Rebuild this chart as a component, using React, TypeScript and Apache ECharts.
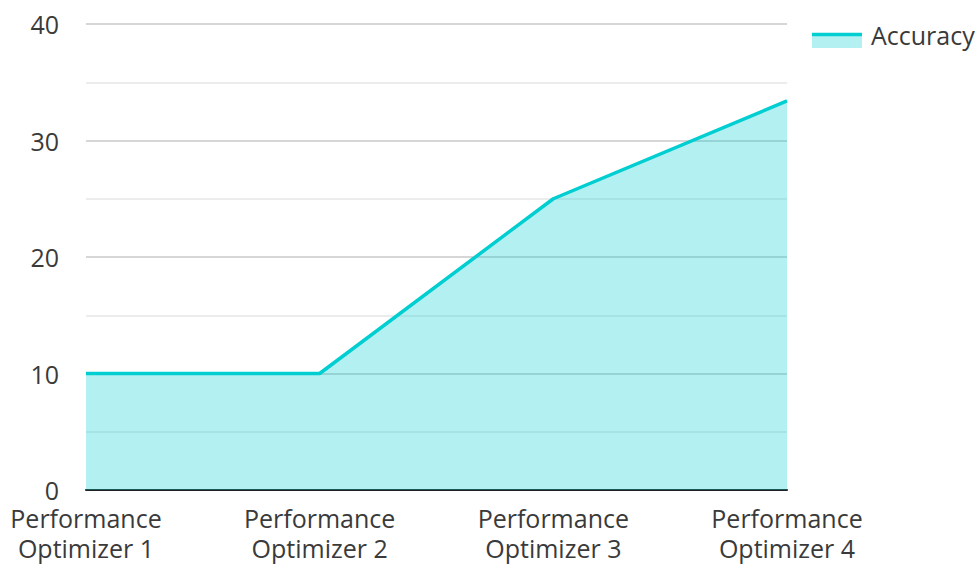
import React, { useEffect, useRef } from "react";
import * as echarts from "echarts";

const categories = [
  "Performance\nOptimizer 1",
  "Performance\nOptimizer 2",
  "Performance\nOptimizer 3",
  "Performance\nOptimizer 4",
];
const accuracy = [10, 10, 25, 33.4];
const seriesName = "Accuracy";

const lineColor = "#00CED1";
const areaColor = "rgba(0,206,209,0.3)";
const font = "'Open Sans', sans-serif";

export default function App() {
  const ref = useRef<HTMLDivElement>(null);
  useEffect(() => {
    if (!ref.current) return;
    const chart = echarts.init(ref.current, undefined, { renderer: "svg" });
    chart.setOption({
      animation: false,
      textStyle: { fontFamily: font },
      grid: { left: 86, right: 190, top: 24, bottom: 74, containLabel: false },
      xAxis: {
        type: "category",
        data: categories,
        boundaryGap: false,
        axisLine: { lineStyle: { color: "#222", width: 2 } },
        axisTick: { show: false },
        axisLabel: {
          color: "#3a3a3a",
          fontSize: 25,
          lineHeight: 30,
          margin: 13,
          fontFamily: font,
        },
        splitLine: { show: false },
      },
      yAxis: {
        type: "value",
        min: 0,
        max: 40,
        interval: 10,
        axisLine: { show: false },
        axisTick: { show: false },
        axisLabel: { color: "#3a3a3a", fontSize: 25, margin: 27, fontFamily: font },
        splitLine: { lineStyle: { color: "#c8c8c8", width: 1.5 } },
        minorTick: { show: false, splitNumber: 2 },
        minorSplitLine: { show: true, lineStyle: { color: "#e6e6e6", width: 1.5 } },
      },
      series: [
        {
          name: seriesName,
          type: "line",
          data: accuracy,
          symbol: "none",
          lineStyle: { color: lineColor, width: 3.5 },
          itemStyle: { color: lineColor },
          areaStyle: { color: areaColor, opacity: 1 },
          z: 2,
        },
      ],
      graphic: [
        {
          type: "rect",
          shape: { x: 812, y: 33, width: 50, height: 15 },
          style: { fill: areaColor },
        },
        {
          type: "line",
          shape: { x1: 812, y1: 34.5, x2: 862, y2: 34.5 },
          style: { stroke: lineColor, lineWidth: 3.5 },
        },
        {
          type: "text",
          x: 871,
          y: 35,
          style: {
            text: seriesName,
            fill: "#3a3a3a",
            fontSize: 25,
            fontFamily: font,
            verticalAlign: "middle",
            align: "left",
          },
        },
      ],
    });
    return () => chart.dispose();
  }, []);
  return (
    <div
      ref={ref}
      style={{ width: 977, height: 564, position: "absolute", left: 0, top: 0 }}
    />
  );
}
